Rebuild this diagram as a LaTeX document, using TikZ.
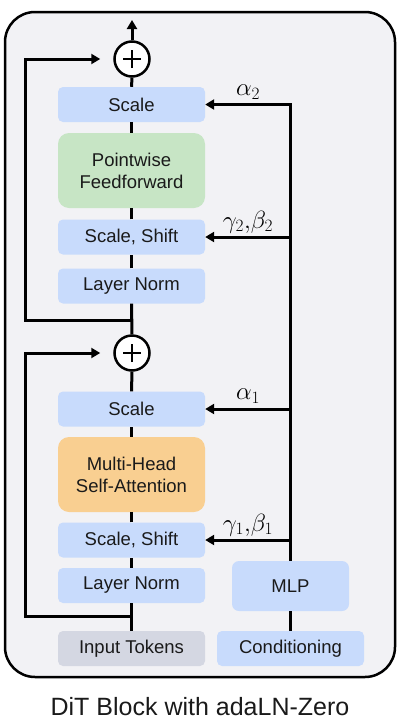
\documentclass[tikz,border=0pt]{standalone}
\usepackage[no-math]{fontspec}
\setmainfont{Liberation Sans}
\usetikzlibrary{arrows.meta}
\definecolor{bgc}{HTML}{F2F2F5}
\definecolor{blu}{HTML}{C8DBFC}
\definecolor{grn}{HTML}{C7E5C5}
\definecolor{org}{HTML}{F9CF91}
\definecolor{gry}{HTML}{D4D7E2}
\definecolor{txt}{HTML}{1A1A1A}
\begin{document}
\begin{tikzpicture}[x=1pt,y=-1pt,
  box/.style={draw=none,rounded corners=5pt,minimum width=147pt,minimum height=35pt,inner sep=0pt,
    font=\fontsize{18.5}{22}\selectfont,text=txt,align=center},
  bluebox/.style={box,fill=blu},
  bigbox/.style={box,minimum height=75pt,rounded corners=11pt},
  plusnode/.style={circle,draw=black,line width=2.5pt,fill=white,minimum size=35pt,inner sep=0pt},
  conn/.style={line width=3pt,black},
  arr/.style={conn,-{Triangle[length=9pt,width=10pt]}},
  lab/.style={font=\fontsize{25}{30}\selectfont,inner sep=0pt}]
\useasboundingbox (0,0) rectangle (405,723);
\fill[bgc,draw=black,line width=2.5pt,rounded corners=30pt] (5,12) rectangle (395,677);
% nodes
\node[box,fill=gry] (in) at (131.5,648.5) {Input Tokens};
\node[bluebox] (cond) at (290.5,648.5) {Conditioning};
\node[bluebox,minimum width=117pt,minimum height=50pt,rounded corners=7pt] (mlp) at (290.5,586) {MLP};
\node[bluebox] (ln1) at (131.5,585.5) {Layer Norm};
\node[bluebox] (ss1) at (131.5,540) {Scale, Shift};
\node[bigbox,fill=org] (att) at (131.5,474.5) {Multi-Head\\Self-Attention};
\node[bluebox] (sc1) at (131.5,409) {Scale};
\node[plusnode] (p1) at (132,353) {};
\node[bluebox] (ln2) at (131.5,286) {Layer Norm};
\node[bluebox] (ss2) at (131.5,237) {Scale, Shift};
\node[bigbox,fill=grn] (ff) at (131.5,170.5) {Pointwise\\Feedforward};
\node[bluebox] (sc2) at (131.5,104.5) {Scale};
\node[plusnode] (p2) at (132,59) {};
\coordinate (out) at (132,20);
\coordinate (j1) at (132,616);
\coordinate (j2) at (132,320);
\coordinate (c1) at (25,616);
\coordinate (c2) at (25,320);
% plus signs
\foreach \p in {p1,p2}{
  \draw[line width=2.5pt] ([xshift=-9pt]\p.center) -- ([xshift=9pt]\p.center);
  \draw[line width=2.5pt] ([yshift=-9pt]\p.center) -- ([yshift=9pt]\p.center);
}
% main column
\draw[conn] (in.north) -- (ln1.south);
\draw[conn] (ln1.north) -- (ss1.south);
\draw[conn] (ss1.north) -- (att.south);
\draw[conn] (att.north) -- (sc1.south);
\draw[conn] (sc1.north) -- (p1.south);
\draw[conn] (p1.north) -- (ln2.south);
\draw[conn] (ln2.north) -- (ss2.south);
\draw[conn] (ss2.north) -- (ff.south);
\draw[conn] (ff.north) -- (sc2.south);
\draw[conn] (sc2.north) -- (p2.south);
\draw[arr] (p2.north) -- (out);
% residuals
\draw[arr,line join=miter] (j1) -- (c1) |- ([xshift=-13pt]p1.west);
\draw[arr,line join=miter] (j2) -- (c2) |- ([xshift=-13pt]p2.west);
% conditioning path
\draw[conn] (cond.north) -- (mlp.south);
\draw[arr,line join=miter] (mlp.north) |- (sc2.east);
\draw[arr] (ss2.east -| mlp.north) -- (ss2.east);
\draw[arr] (sc1.east -| mlp.north) -- (sc1.east);
\draw[arr] (ss1.east -| mlp.north) -- (ss1.east);
% labels
\node[lab] (la2) at (248,92) {$\alpha_2$};
\node[lab] (lg2) at (248,222) {$\gamma_2{,}\beta_2$};
\node[lab] (la1) at (248,396) {$\alpha_1$};
\node[lab] (lg1) at (248,525) {$\gamma_1{,}\beta_1$};
\node[font=\fontsize{25}{30}\selectfont,text=txt,inner sep=0pt] (cap) at (200,707) {DiT Block with adaLN-Zero};
\end{tikzpicture}
\end{document}
